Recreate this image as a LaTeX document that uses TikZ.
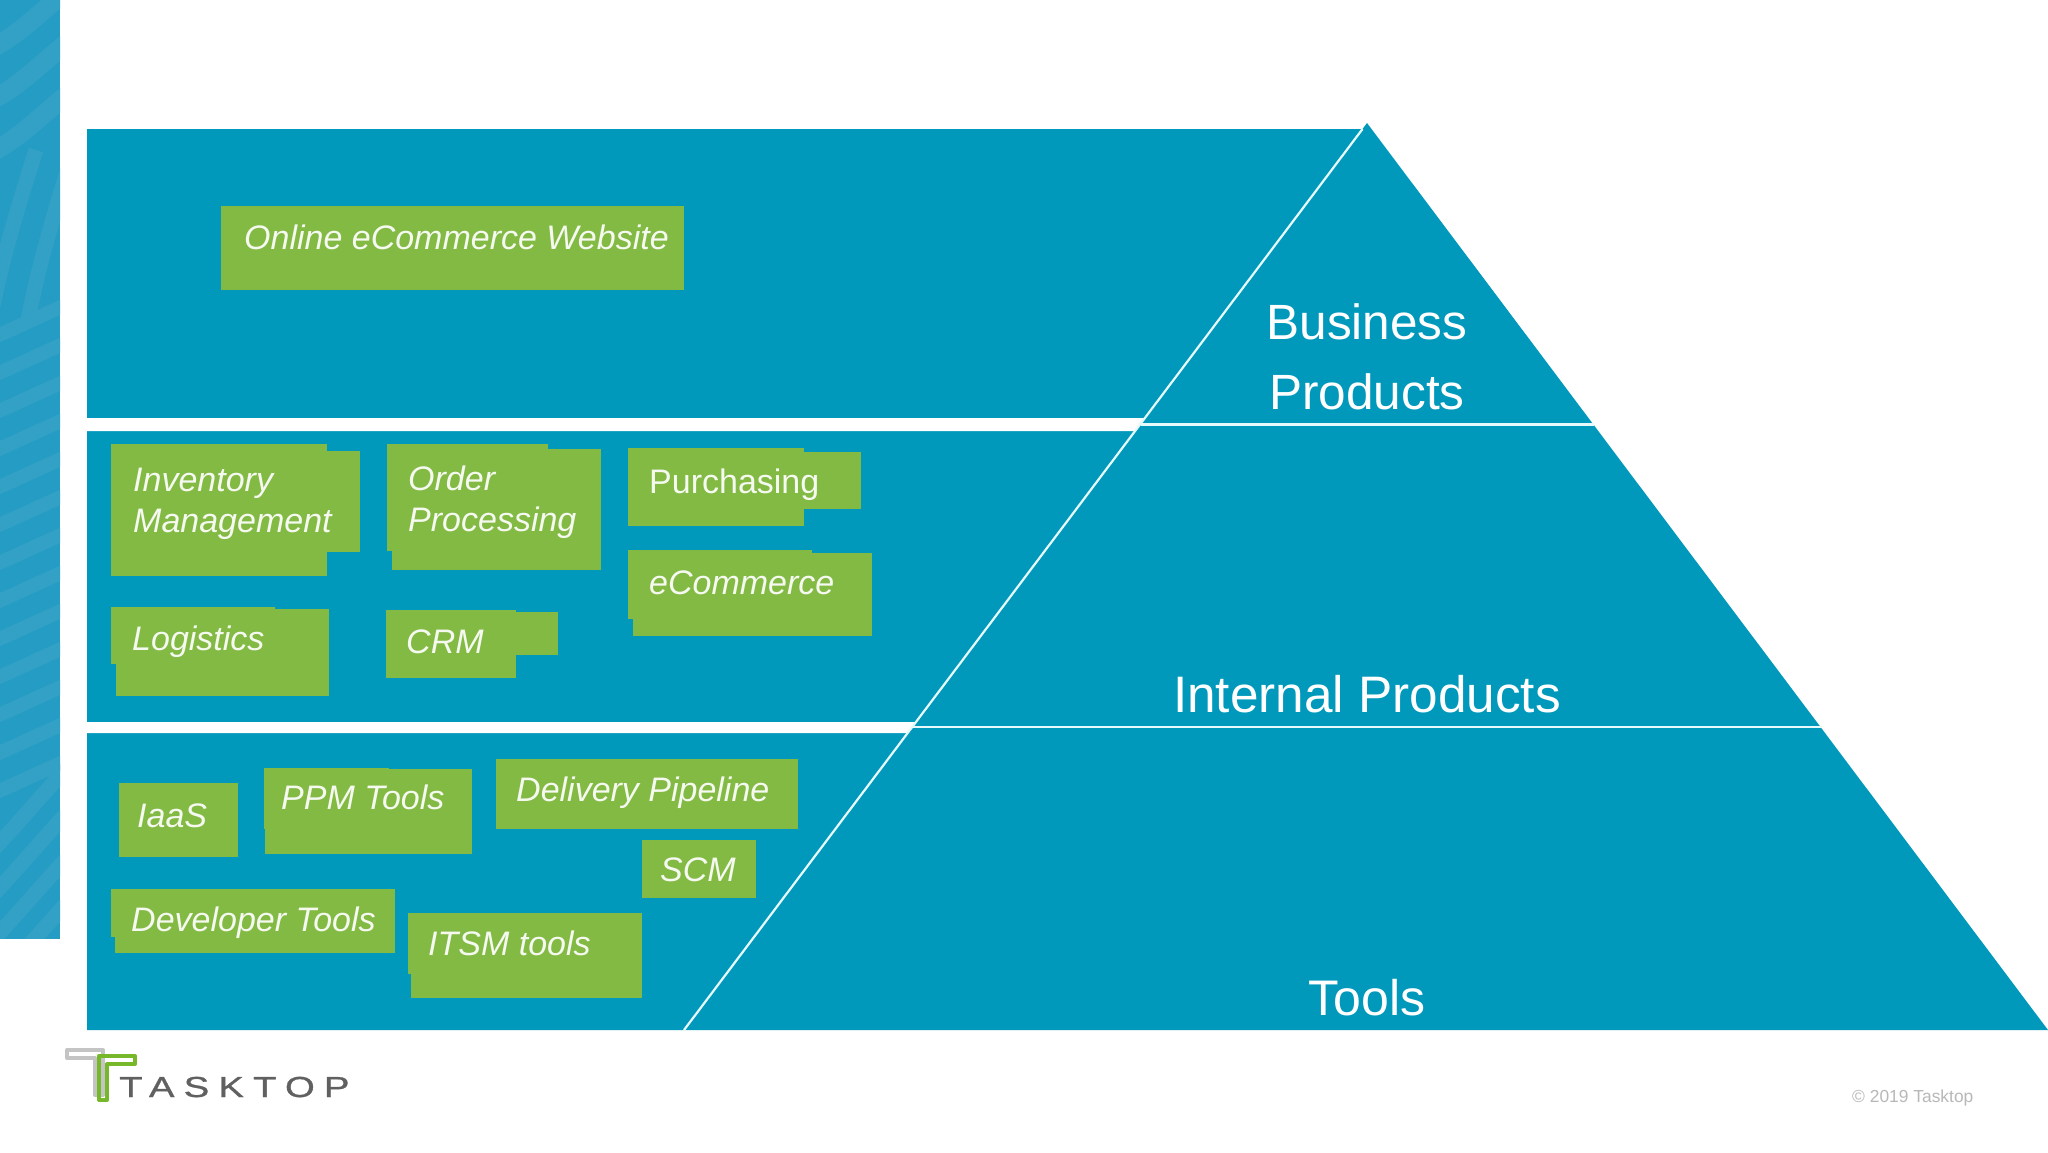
\documentclass[tikz,border=0pt]{standalone}
\usepackage{fontspec}
\setmainfont{Liberation Sans}
\newfontfamily\logofont{Liberation Sans}[LetterSpace=24,FakeBold=0.8]
\definecolor{pyr}{HTML}{0099BC}
\definecolor{lime}{HTML}{83BA44}
\definecolor{side}{HTML}{259CC3}
\definecolor{sidel}{HTML}{33A1C6}
\definecolor{lin}{HTML}{E6FAFC}
\definecolor{logogr}{HTML}{606060}
\definecolor{logolg}{HTML}{C4C4C4}
\definecolor{logogn}{HTML}{76B82A}
\tikzset{
  g/.style={fill=lime,draw=none},
  sep/.style={draw=lin,line width=2.2pt},
  gap/.style={fill=white,draw=none},
  tag/.style={anchor=base west,inner sep=0pt,text=white!92!lime,align=left,font=\fontsize{34}{41}\selectfont\itshape},
  uptag/.style={tag,font=\fontsize{34}{41}\selectfont},
  tier/.style={anchor=base,inner sep=0pt,text=white,align=center},
  stripe/.style={draw=sidel},
}
\begin{document}
\begin{tikzpicture}[x=1pt,y=-1pt]
\useasboundingbox (0,0) rectangle (2048,1152);
\fill[white] (0,0) rectangle (2048,1152);
% side stripe
\begin{scope}
\clip (0,0) rectangle (60,939);
\fill[side] (0,0) rectangle (60,939);
\foreach \y in {20,72,124}{
  \draw[stripe,line width=19pt] (-8,\y+28) .. controls (20,\y+14) and (40,\y-8) .. (68,\y-30);
}
\foreach \x in {-10,28}{
  \draw[stripe,line width=15pt] (\x,320) .. controls (\x+10,270) and (\x+22,225) .. (\x+46,150);
}
\foreach \y in {320,358,...,780}{
  \draw[stripe,line width=14pt] (-8,\y+18) .. controls (20,\y+6) and (40,\y-4) .. (68,\y-16);
}
\foreach \y in {815,860,905,950}{
  \draw[stripe,line width=15pt] (-8,\y+36) .. controls (15,\y+12) and (40,\y-18) .. (68,\y-48);
}
\end{scope}
\fill[white] (0,939) rectangle (62,950);
% pyramid and bands
\coordinate (apex) at (1367,123);
\coordinate (topc) at (1362.5,129);
\coordinate (baseL) at (684,1030);
\coordinate (baseR) at (2048,1030);
\coordinate (bandTL) at (87,129);
\coordinate (bandBL) at (87,1030);
\fill[pyr] (bandTL) -- (topc) -- (apex) -- (baseR) -- (bandBL) -- cycle;
\fill[gap] (87,418) -- (1145,418) -- (1135,431) -- (87,431) -- cycle;
\fill[gap] (87,722) -- (916,722) -- (908,733) -- (87,733) -- cycle;
\coordinate (h1l) at (1141,424.5);
\coordinate (h1r) at (1594,424.5);
\coordinate (h2l) at (912,727);
\coordinate (h2r) at (1822,727);
\draw[sep] (topc) -- (baseL);
\draw[sep] (h1l) -- (h1r);
\draw[sep] (h2l) -- (h2r);
% green boxes
\fill[g] (221,206) rectangle (684,290);
\fill[g] (111,444) rectangle (327,576);
\fill[g] (111,451) rectangle (360,552);
\fill[g] (387,444) rectangle (548,551);
\fill[g] (392,449) rectangle (601,570);
\fill[g] (628,448) rectangle (804,526);
\fill[g] (628,452) rectangle (861,509);
\fill[g] (628,550) rectangle (812,619);
\fill[g] (633,553) rectangle (872,636);
\fill[g] (111,607) rectangle (275,664);
\fill[g] (116,609) rectangle (329,696);
\fill[g] (386,610) rectangle (516,678);
\fill[g] (386,612) rectangle (558,655);
\fill[g] (119,783) rectangle (238,857);
\fill[g] (264,768) rectangle (389,829);
\fill[g] (265,769) rectangle (472,854);
\fill[g] (496,759) rectangle (798,829);
\fill[g] (642,840) rectangle (756,898);
\fill[g] (111,889) rectangle (395,937);
\fill[g] (115,889) rectangle (395,953);
\fill[g] (408,913) rectangle (642,974);
\fill[g] (411,913) rectangle (642,998);
% green labels
\node[tag] (online) at (244,249) {Online eCommerce Website};
\node[tag] (inv) at (133,532) {Inventory\\Management};
\node[tag] (ord) at (408,531) {Order\\Processing};
\node[uptag] (pur) at (649,493) {Purchasing};
\node[tag] (eco) at (649,594) {eCommerce};
\node[tag] (log) at (132,650) {Logistics};
\node[tag] (crm) at (406,653) {CRM};
\node[tag] (iaas) at (137,827) {IaaS};
\node[tag] (ppm) at (281,809) {PPM Tools};
\node[tag] (del) at (516,801) {Delivery Pipeline};
\node[tag] (scm) at (660,881) {SCM};
\node[tag] (dev) at (131,931) {Developer Tools};
\node[tag] (itsm) at (428,955) {ITSM tools};
% tier labels
\node[tier,font=\fontsize{49.5}{70}\selectfont] (biz) at (1367,409) {Business\\Products};
\node[tier,font=\fontsize{51.3}{60}\selectfont] (int) at (1367,712) {Internal Products};
\node[tier,font=\fontsize{50}{60}\selectfont] (tools) at (1367,1015) {Tools};
% logo
\draw[logolg,line width=4pt,line join=round] (67,1050) -- (103,1050) -- (103,1095) -- (95,1095) -- (95,1058) -- (67,1058) -- cycle;
\draw[logogn,line width=4pt,line join=round] (99,1056) -- (135,1056) -- (135,1064) -- (107,1064) -- (107,1100) -- (99,1100) -- cycle;
\node[anchor=base west,inner sep=0pt,text=logogr,xscale=1.32,font=\logofont\fontsize{29}{30}\selectfont] (logo) at (119,1097) {TASKTOP};
\node[anchor=base west,inner sep=0pt,text=black!28,font=\fontsize{17.4}{20}\selectfont] (copy) at (1852,1102) {© 2019 Tasktop};
\end{tikzpicture}
\end{document}
